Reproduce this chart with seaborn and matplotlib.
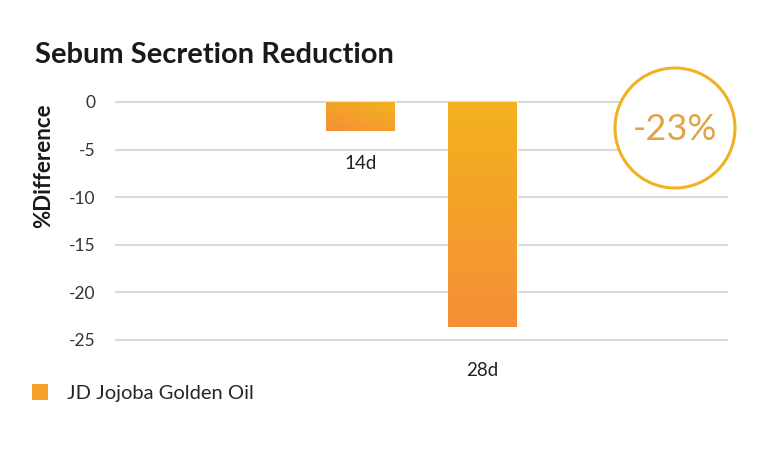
import matplotlib
matplotlib.use("Agg")
import matplotlib.pyplot as plt
import seaborn as sns
import numpy as np
import pandas as pd
from matplotlib.patches import Ellipse, Patch
from matplotlib.colors import LinearSegmentedColormap

# ---- data ----
categories = ["14d", "28d"]
values = [-3.0, -23.6]
series_name = "JD Jojoba Golden Oil"
y_ticks = [0, -5, -10, -15, -20, -25]
title = "Sebum Secretion Reduction"
y_label = "%Difference"
callout = "-23%"

df = pd.DataFrame({"Day": categories, "Diff": values, "Series": [series_name] * len(categories)})

sns.set_theme(style="white")
plt.rcParams["font.family"] = ["Lato", "DejaVu Sans"]

W, H = 768, 454
fig = plt.figure(figsize=(W / 100, H / 100), dpi=100)
fig.patch.set_facecolor("white")

# axes placement (pixels -> fractions)
ymin, ymax = -25.3, 0.3
px_per_unit = (340 - 102) / 25.0
top_px = 102 - 0.3 * px_per_unit
bot_px = 340 + 0.3 * px_per_unit
left_px, right_px = 115, 728
ax = fig.add_axes([left_px / W, 1 - bot_px / H, (right_px - left_px) / W, (bot_px - top_px) / H])

YELLOW = "#F3B21E"
ORANGE = "#F58F36"

sns.barplot(data=df, x="Day", y="Diff", color=ORANGE, width=0.56, ax=ax,
            order=categories, legend=False, zorder=3, saturation=1)

ax.set_xlim(-2.01, 3.01)
ax.set_ylim(ymin, ymax)
ax.set_yticks(y_ticks)
ax.set_yticklabels([str(t) for t in y_ticks], fontsize=12.5, color="#333333")
ax.tick_params(axis="y", length=0, pad=14)
ax.set_xticks([])
ax.set_xlabel("")
ax.set_ylabel("")
for s in ax.spines.values():
    s.set_visible(False)
ax.grid(axis="y", color="#D9D9D9", linewidth=1.5, zorder=0)
ax.grid(axis="x", visible=False)

# gradient fill clipped to each bar
cmap = LinearSegmentedColormap.from_list("g", [YELLOW, ORANGE])
for i, patch in enumerate(ax.patches):
    bb = patch.get_bbox()
    xlo, xhi = min(bb.x0, bb.x1), max(bb.x0, bb.x1)
    ylo, yhi = min(bb.y0, bb.y1), max(bb.y0, bb.y1)
    n = 100
    yy, xx = np.mgrid[0:1:n * 1j, 0:1:n * 1j]  # yy: 0 at top row
    if i == 0:
        grad = 0.55 * yy + 0.45 * (1 - xx)
    else:
        grad = yy
    im = ax.imshow(grad, cmap=cmap, extent=[xlo, xhi, ylo, yhi],
                   origin="upper", aspect="auto", zorder=4, vmin=0, vmax=1)
    im.set_clip_path(patch)
    xc = patch.get_x() + patch.get_width() / 2
    if i == 0:
        ax.text(xc, ylo - 3.5, categories[i],
                ha="center", va="center", fontsize=13.5, color="#222222")
    else:
        ax.text(xc, -28.2, categories[i],
                ha="center", va="center", fontsize=13.5, color="#222222", clip_on=False)

ax.set_xlim(-2.01, 3.01)
ax.set_ylim(ymin, ymax)

# title and y label
fig.text(35 / W, 1 - 55 / H, title, fontsize=21, fontweight="bold", color="#1a1a1a",
         ha="left", va="center")
fig.text(44 / W, 1 - 166 / H, y_label, fontsize=16, fontweight="bold", color="#1a1a1a",
         rotation=90, ha="center", va="center")

# legend
handles = [Patch(facecolor="#F5A32B", edgecolor="none")]
fig.legend(handles, [series_name], loc="center left", bbox_to_anchor=(32 / W, 1 - 393 / H),
           frameon=False, fontsize=14.5, handlelength=0.8, handleheight=0.8,
           handletextpad=0.95, borderaxespad=0, borderpad=0)

# callout circle
cx, cy, r = 675, 128, 60
circ = Ellipse((cx / W, 1 - cy / H), 2 * r / W, 2 * r / H, transform=fig.transFigure,
               facecolor="white", edgecolor="#F2B11E", linewidth=2.2, zorder=10)
fig.add_artist(circ)
fig.text(cx / W, 1 - (cy + 1) / H, callout, fontsize=26, fontweight="normal", color="#DFA447",
         ha="center", va="center", zorder=11)

fig.savefig("out.png", dpi=100)
